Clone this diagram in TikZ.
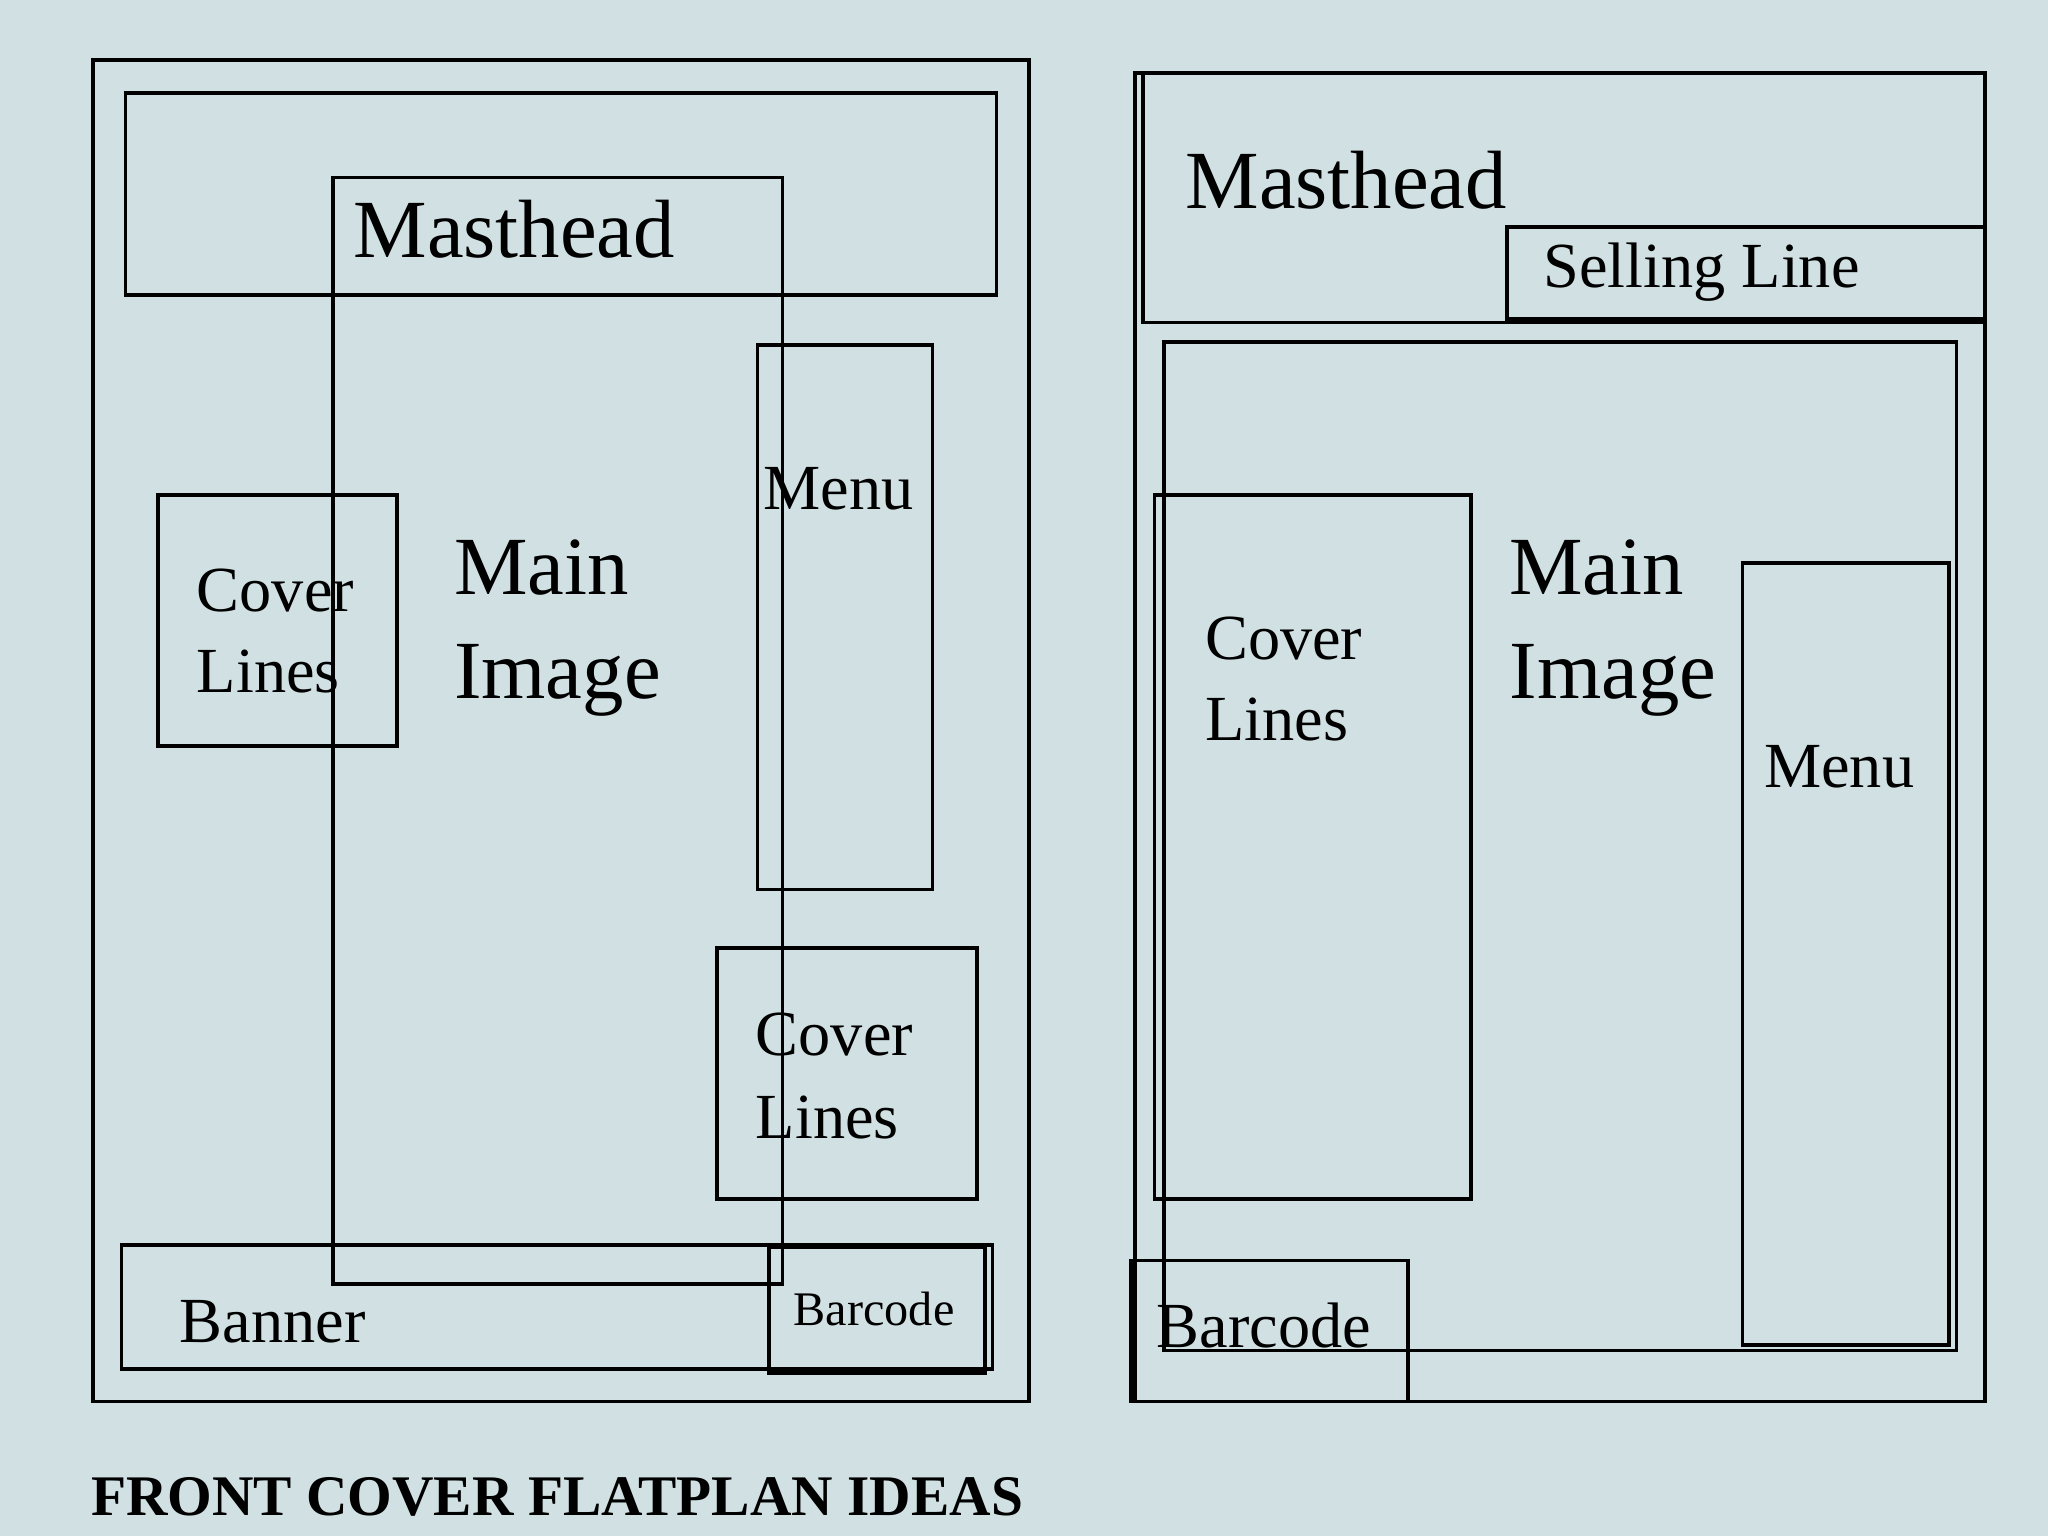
\documentclass[tikz,border=0pt]{standalone}
\usepackage{fontspec}
\setmainfont{Liberation Serif}
\definecolor{bg}{RGB}{209,225,227}
\begin{document}
\begin{tikzpicture}[x=0.01cm,y=-0.01cm,
  box/.style={draw=black,line width=0.8pt},
  big/.style={anchor=base west,inner sep=0,font=\fontsize{18}{20}\selectfont},
  mid/.style={anchor=base west,inner sep=0,font=\fontsize{14}{16}\selectfont},
  sml/.style={anchor=base west,inner sep=0,font=\fontsize{10.5}{12}\selectfont}]
\fill[bg] (0,0) rectangle (1568,1176);
\useasboundingbox (0,0) rectangle (1568,1176);
% left plan
\draw[box] (71,46) rectangle (788,1073);
\draw[box] (96,71) rectangle (763,226);
\draw[box] (255,136) rectangle (599,983);
\draw[box] (580,264) rectangle (714,681);
\draw[box] (121,379) rectangle (304,571);
\draw[box] (549,726) rectangle (748,918);
\draw[box] (93,953) rectangle (760,1048);
\draw[box] (589,955) rectangle (754,1051);
\node[big] (lm) at (270,197) {Masthead};
\node[mid] (lc1) at (150,468) {Cover};
\node[mid] (lc2) at (150,530) {Lines};
\node[big] (li1) at (347,455) {Main};
\node[big] (li2) at (347,535) {Image};
\node[mid] (lmenu) at (584,390) {Menu};
\node[mid] (lc3) at (578,808) {Cover};
\node[mid] (lc4) at (578,872) {Lines};
\node[mid] (lb) at (137,1028) {Banner};
\node[sml] (lbc) at (607,1015) {Barcode};
% right plan
\draw[box] (869,56) rectangle (1520,1073);
\draw[box] (875,56) rectangle (1520,247);
\draw[box] (1154,174) rectangle (1520,244);
\draw[box] (891,262) rectangle (1498,1034);
\draw[box] (884,379) rectangle (1126,918);
\draw[box] (1334,431) rectangle (1492,1030);
\draw[box] (866,965) rectangle (1078,1073);
\node[big] (rm) at (907,160) {Masthead};
\node[mid] (rs) at (1181,220) {Selling Line};
\node[mid] (rc1) at (922,505) {Cover};
\node[mid] (rc2) at (922,567) {Lines};
\node[big] (ri1) at (1155,455) {Main};
\node[big] (ri2) at (1155,535) {Image};
\node[mid] (rmenu) at (1350,603) {Menu};
\node[mid] (rbc) at (885,1032) {Barcode};
\node[anchor=base west,inner sep=0,font=\bfseries\fontsize{12.5}{14}\selectfont] (t) at (69,1160) {FRONT COVER FLATPLAN IDEAS};
\end{tikzpicture}
\end{document}
